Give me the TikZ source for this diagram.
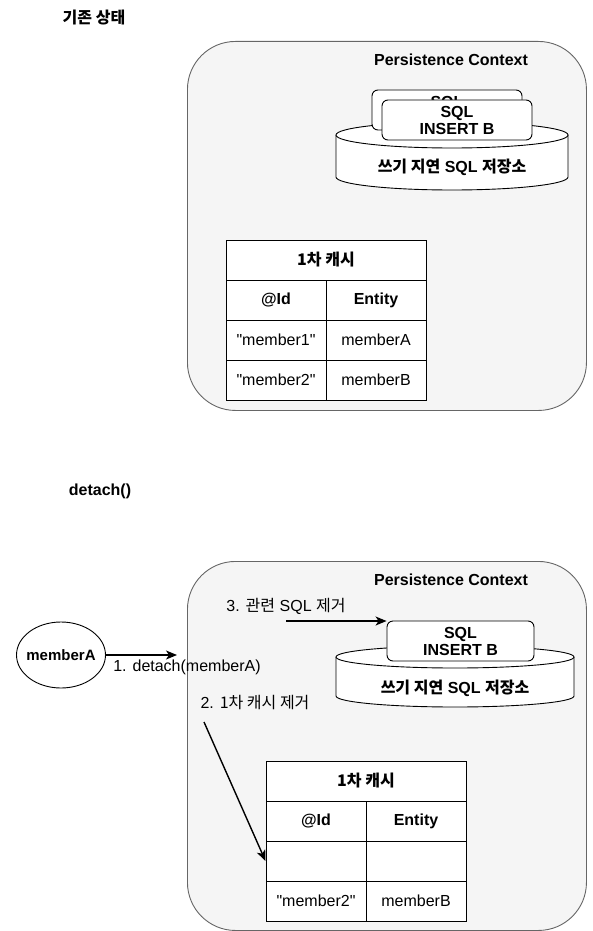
\documentclass[tikz,border=0pt]{standalone}
\usepackage{fontspec}
\setmainfont{Liberation Sans}
\newfontfamily\kr{Noto Sans CJK KR}
\usetikzlibrary{arrows.meta,positioning,shapes.geometric}
\definecolor{ctxfill}{HTML}{F5F5F5}
\definecolor{ctxline}{HTML}{666666}
\newcommand\dfont{\fontsize{16pt}{17pt}\selectfont}
\tikzset{
	ctx/.style={draw=ctxline,fill=ctxfill,line width=0.9pt,rounded corners=48pt,minimum width=399pt,minimum height=369pt,inner sep=0,anchor=north west},
	sqlbox/.style={draw,fill=white,line width=0.9pt,rounded corners=6pt,minimum width=150pt,minimum height=40pt,inner sep=0,align=center,font=\dfont\bfseries},
	cell/.style={draw,fill=white,line width=1pt,minimum width=100pt,minimum height=40pt,inner sep=0,font=\dfont},
	headcell/.style={cell,minimum width=200pt,font=\dfont\bfseries},
	txt/.style={inner sep=0,font=\dfont},
	flow/.style={line width=1.4pt,-{Stealth[length=11pt,width=9pt,inset=3pt]}},
}
\begin{document}
\begin{tikzpicture}[x=1pt,y=-1pt]
	\useasboundingbox (0,0) rectangle (592,931);
	% titles
	\node[txt,font=\dfont\bfseries] (title1) at (94,18) {\kr 기존 상태};
	\node[txt,font=\dfont\bfseries] (title2) at (100,491) {detach()};

	% ---- before ----
	\node[ctx] (pc1) at (187,41) {};
	\node[txt,font=\dfont\bfseries] (pcname1) at (451,60) {Persistence Context};
	% store -> cylinder
	\draw[fill=white,line width=0.9pt] (336,135) -- (336,177) arc[start angle=180,end angle=0,x radius=116,y radius=13] -- (568,135);
	\draw[fill=white,line width=0.9pt] (452,135) ellipse[x radius=116,y radius=13];
	\node[txt,font=\dfont\bfseries] (store1) at (452,167) {{\kr 쓰기 지연} SQL {\kr 저장소}};
	% queued sql
	\node[sqlbox] (sqlA1) at (447,110) {SQL\\\phantom{INSERT B}};
	\node[sqlbox] (sqlB1) at (457,120) {SQL\\INSERT B};
	% cache table
	\node[headcell] (cache1) at (326,260) {\kr 1차 캐시};
	\node[cell,font=\dfont\bfseries] (idh1) at (276,300) {@Id};
	\node[cell,font=\dfont\bfseries] (enth1) at (376,300) {Entity};
	\node[cell] (ida1) at (276,340) {\textquotedbl member1\textquotedbl};
	\node[cell] (enta1) at (376,340) {memberA};
	\node[cell] (idb1) at (276,380) {\textquotedbl member2\textquotedbl};
	\node[cell] (entb1) at (376,380) {memberB};

	% ---- after detach ----
	\node[ctx] (pc2) at (187,561) {};
	\node[txt,font=\dfont\bfseries] (pcname2) at (451,580) {Persistence Context};
	% store -> cylinder
	\draw[fill=white,line width=0.9pt] (336,657) -- (336,696) arc[start angle=180,end angle=0,x radius=119,y radius=11] -- (574,657);
	\draw[fill=white,line width=0.9pt] (455,657) ellipse[x radius=119,y radius=11];
	\node[txt,font=\dfont\bfseries] (store2) at (455,688) {{\kr 쓰기 지연} SQL {\kr 저장소}};
	\node[sqlbox,minimum width=147pt] (sqlB2) at (460.5,641) {SQL\\INSERT B};
	% cache table
	\node[headcell] (cache2) at (366,781) {\kr 1차 캐시};
	\node[cell,font=\dfont\bfseries] (idh2) at (316,821) {@Id};
	\node[cell,font=\dfont\bfseries] (enth2) at (416,821) {Entity};
	\node[cell] (ida2) at (316,861) {};
	\node[cell] (enta2) at (416,861) {};
	\node[cell] (idb2) at (316,901) {\textquotedbl member2\textquotedbl};
	\node[cell] (entb2) at (416,901) {memberB};

	% entity
	\node[draw,ellipse,line width=0.9pt,minimum width=89pt,minimum height=66pt,inner xsep=-6pt,inner ysep=0,font=\fontsize{15pt}{17pt}\selectfont\bfseries] (memberA) at (61,655) {memberA};

	% steps
	\coordinate (c1) at (177,655);
	\coordinate (c2) at (204,722);
	\coordinate (c3) at (286,621);
	\draw[flow] (memberA.east) -- (c1);
	\node[txt] (step1) at (187,667) {1. detach(memberA)};
	\draw[flow] (c2) -- (ida2.west);
	\node[txt] (step2) at (255,703) {2. {\kr 1차 캐시 제거}};
	\draw[flow] (c3) -- (sqlB2.west |- c3);
	\node[txt] (step3) at (286,606) {3. {\kr 관련} SQL {\kr 제거}};
\end{tikzpicture}
\end{document}
